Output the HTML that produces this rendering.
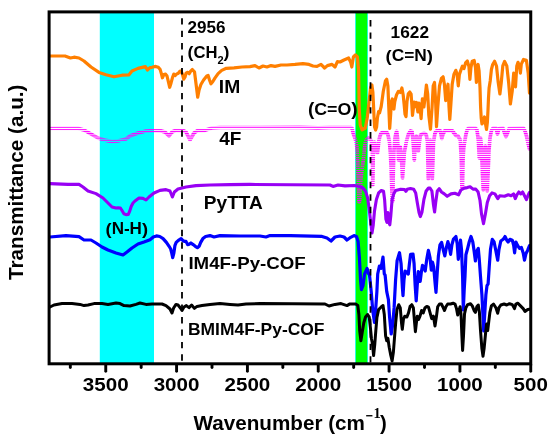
<!DOCTYPE html>
<html><head><meta charset="utf-8"><title>FTIR spectra</title>
<style>
html,body{margin:0;padding:0;background:#fff;}
svg{display:block;}
text{font-family:"Liberation Sans",sans-serif;font-weight:bold;fill:#000;}
.c{fill:none;stroke-linejoin:round;stroke-linecap:round;}
</style></head>
<body>
<svg width="550" height="441" viewBox="0 0 550 441">
<defs>
<pattern id="stripes" x="0" y="128.85" width="550" height="2.16" patternUnits="userSpaceOnUse">
<rect x="0" y="0" width="550" height="1.2" fill="#fff"/>
</pattern>
<mask id="m" maskUnits="userSpaceOnUse" x="0" y="0" width="550" height="441">
<rect x="0" y="0" width="550" height="441" fill="url(#stripes)"/>
</mask>
</defs>
<rect x="0" y="0" width="550" height="441" fill="#fff"/>
<rect x="99.8" y="11.9" width="54.2" height="351.9" fill="#00ffff"/>
<rect x="355.5" y="11.9" width="12.1" height="351.9" fill="#00ff00" stroke="#00ffff" stroke-width="0.7"/>
<polyline class="c" stroke="#ff7f00" stroke-width="3.2" points="50.0,56.0 65.0,56.0 70.4,58.0 74.0,57.2 79.0,58.0 84.0,61.0 91.0,67.0 99.0,72.4 106.0,74.8 114.0,76.8 122.0,75.2 129.0,74.8 132.0,71.0 138.0,68.4 145.4,66.6 147.4,70.0 150.0,67.6 152.0,67.3 155.6,66.4 158.3,67.3 160.2,69.6 161.5,74.1 162.4,77.8 163.8,74.6 165.6,74.1 167.0,76.0 168.3,81.4 169.7,87.3 171.0,83.2 172.4,77.8 173.8,74.1 175.1,75.5 176.5,74.1 178.3,73.2 179.7,71.4 181.0,71.0 182.4,74.1 183.7,79.1 185.1,76.9 186.0,73.2 187.8,72.3 189.2,73.7 190.5,71.4 192.3,69.5 194.5,71.8 195.9,82.7 197.7,97.2 199.1,90.0 200.9,84.5 203.6,80.0 206.8,75.9 208.1,75.4 209.5,80.0 211.0,83.8 212.7,81.8 214.9,78.1 218.1,73.6 221.7,70.4 226.3,68.3 234.0,67.8 242.0,67.0 250.0,66.6 255.0,65.6 259.0,68.0 263.0,66.0 267.0,67.0 271.0,65.6 275.0,66.4 281.0,65.0 287.0,65.0 295.0,64.4 303.0,63.6 309.0,64.4 313.0,66.0 317.0,66.4 321.0,64.4 324.6,68.0 327.4,65.6 332.0,64.4 335.0,67.0 337.4,61.6 340.0,62.0 344.0,60.0 348.6,58.0 350.6,62.0 351.8,67.0 353.4,57.0 355.4,55.0 357.4,57.0 358.6,70.0 359.2,107.8 360.2,125.0 362.1,129.8 365.3,128.0 367.2,118.0 369.1,101.5 370.6,87.5 371.9,84.9 372.9,92.5 373.9,114.0 374.6,127.0 375.6,130.0 376.6,127.0 377.4,118.0 378.6,111.6 379.5,113.0 381.2,106.5 383.3,91.3 385.4,81.0 386.7,79.2 387.9,86.0 388.8,107.8 389.7,128.5 390.7,114.0 391.4,101.5 392.3,99.0 393.0,105.0 393.9,109.0 394.8,101.5 396.5,95.0 398.4,91.3 400.3,92.5 401.9,88.0 403.2,95.0 404.1,104.0 405.0,114.2 406.0,116.7 407.0,101.5 408.3,93.8 409.8,92.0 411.1,94.0 411.8,104.0 412.5,115.3 414.1,102.0 415.3,106.5 416.5,102.5 417.9,112.0 419.0,103.0 420.1,108.0 421.1,118.6 422.4,98.9 423.9,107.0 425.1,97.3 426.4,85.0 427.7,94.0 428.8,115.3 430.5,129.2 432.1,107.0 433.2,85.8 434.5,82.5 435.5,98.9 436.5,126.7 437.8,107.0 439.5,85.8 441.4,78.5 443.1,76.8 444.4,84.2 445.7,100.6 446.8,90.7 448.0,84.2 449.0,107.0 449.8,119.4 450.9,103.8 452.2,84.2 453.9,74.4 455.8,70.3 457.1,74.4 458.3,85.8 459.4,74.4 461.1,69.5 462.4,66.2 464.0,68.6 465.6,62.9 467.3,61.0 468.9,66.2 469.9,79.3 470.9,67.8 472.2,61.3 474.2,60.5 475.5,67.8 476.4,82.5 477.1,67.8 478.1,64.5 479.1,71.1 480.0,87.5 480.6,107.0 481.2,118.0 482.0,124.0 483.2,122.0 484.5,117.0 485.5,124.0 486.5,129.5 487.4,122.0 488.0,110.0 488.5,98.0 489.1,88.0 490.2,81.0 491.4,69.5 492.7,64.5 494.6,61.3 496.5,66.0 498.2,82.3 499.9,94.0 501.3,82.2 502.8,65.9 504.6,61.4 506.8,65.9 508.6,82.2 510.4,104.0 512.2,91.3 513.7,73.1 514.9,82.2 515.5,86.8 516.8,65.9 518.0,62.3 519.5,65.9 520.4,73.1 521.3,64.1 523.5,59.5 526.4,60.4 528.2,73.1 529.5,93.1"/>
<g mask="url(#m)"><polyline class="c" stroke="#ff00ff" stroke-width="3.7" points="50.0,128.4 78.0,128.4 84.0,130.0 91.0,134.0 98.0,138.0 106.0,140.4 112.0,141.6 118.0,141.0 126.0,139.0 130.0,136.0 138.0,133.0 146.0,131.0 158.0,130.3 160.0,130.6 165.0,132.0 169.0,136.0 172.0,132.0 176.0,130.3 183.0,130.3 186.0,132.0 190.0,140.0 194.0,133.0 198.0,130.3 205.0,130.3 212.0,128.0 220.0,127.5 260.0,127.5 300.0,127.4 318.0,127.9 330.0,127.5 351.0,127.5 352.0,128.3 353.4,134.0 355.5,140.0 356.4,143.0 357.3,152.0 357.7,161.0 358.3,180.0 359.0,202.0 359.6,202.0 360.8,180.0 362.5,166.0 363.2,161.0 364.1,152.0 365.2,143.0 366.5,139.5 368.0,138.0 370.0,139.0 371.5,141.0 372.3,152.0 372.8,185.0 373.3,152.0 374.5,142.0 375.5,146.0 376.5,152.0 377.5,153.0 378.3,146.0 379.0,140.0 380.0,136.0 381.0,133.5 382.0,132.6 387.0,132.6 388.0,135.0 389.5,142.0 390.5,155.0 391.2,170.0 392.2,201.0 392.8,201.0 393.3,170.0 394.0,150.0 395.0,138.0 396.0,133.0 396.7,131.5 397.5,138.0 398.5,160.0 399.4,150.0 400.3,147.0 401.3,155.0 402.5,178.0 403.4,165.0 404.4,152.0 406.5,141.0 408.5,134.0 410.5,131.0 412.0,131.5 413.0,140.0 414.3,160.0 415.3,141.0 416.3,136.0 417.3,140.0 418.3,151.0 419.3,143.0 420.5,135.0 423.0,133.5 425.0,133.5 426.3,135.0 427.5,142.0 428.3,179.0 430.3,140.0 432.3,179.0 433.5,142.0 435.0,133.0 437.0,130.5 440.0,130.5 441.0,134.0 441.8,138.5 443.0,134.0 445.0,130.5 452.0,130.5 454.0,133.0 456.0,135.5 458.0,136.0 460.3,140.0 461.3,160.0 461.9,187.0 462.5,187.0 463.0,160.0 463.7,148.0 464.8,141.0 466.0,134.0 467.3,129.5 469.0,128.0 475.5,128.0 477.0,130.0 478.3,140.0 479.3,158.0 480.5,138.0 481.5,146.0 482.5,175.0 483.3,190.0 484.5,160.0 485.4,146.0 486.2,165.0 487.2,191.0 488.2,170.0 489.0,150.0 490.0,138.0 491.3,131.0 493.0,128.2 496.0,128.2 497.5,134.0 499.0,128.5 503.0,128.2 504.5,133.0 506.0,136.5 507.5,133.0 509.0,128.5 523.5,128.2 525.0,131.0 526.5,136.0 528.0,143.0 529.5,149.0"/></g>
<polyline class="c" stroke="#9800f4" stroke-width="3.1" points="50.0,183.6 68.0,184.4 79.0,184.4 83.0,187.0 88.0,191.0 96.0,193.6 103.0,198.0 108.0,203.0 112.0,207.0 116.0,208.0 118.0,207.8 120.4,208.0 122.0,210.5 123.9,213.8 126.0,214.6 128.3,214.4 129.8,210.9 131.2,206.5 133.0,203.0 135.0,201.0 139.0,198.0 143.0,198.4 146.0,200.0 149.0,197.0 154.0,193.0 160.0,190.4 166.0,189.6 170.0,191.0 172.4,197.0 174.4,192.0 178.0,189.0 186.0,187.0 196.0,185.6 210.0,185.0 230.0,184.6 250.0,184.4 330.0,185.0 333.0,186.4 338.0,185.0 345.0,185.9 354.8,185.5 359.7,186.4 363.0,188.0 365.5,191.3 367.6,197.8 369.2,209.3 370.9,224.0 372.0,233.0 373.2,225.6 374.5,210.9 376.4,199.5 378.6,192.9 381.3,190.5 383.5,191.3 384.6,199.5 385.9,219.1 386.9,222.4 387.9,212.6 388.9,222.4 389.8,224.8 390.8,215.8 392.1,199.5 393.8,193.7 395.7,190.5 400.6,189.3 404.7,189.6 405.9,191.3 407.2,189.3 410.5,188.5 413.7,189.3 415.7,192.9 417.3,202.7 419.0,212.5 420.3,216.6 421.9,212.5 423.9,199.5 426.0,191.3 428.5,188.0 430.0,188.1 431.9,191.0 433.4,204.4 434.6,212.0 435.7,202.5 437.3,191.0 439.2,188.7 441.5,192.0 444.3,193.9 447.2,196.3 451.0,193.9 454.8,193.3 458.6,194.8 460.9,190.0 464.4,188.1 467.2,187.6 470.1,186.8 473.0,189.1 475.8,189.1 478.1,192.0 480.0,200.5 481.5,213.9 483.5,223.8 485.4,213.9 487.3,202.5 489.6,195.8 492.0,192.9 494.9,193.9 497.8,198.6 499.7,195.8 504.5,196.3 508.3,194.8 511.1,195.8 513.6,193.9 515.3,198.6 516.9,194.8 518.8,192.0 520.7,193.9 522.6,192.0 524.5,195.8 526.4,199.6 528.3,194.8 529.3,192.5"/>
<polyline class="c" stroke="#0000ff" stroke-width="3.2" points="50.0,237.0 66.0,235.6 79.0,236.6 84.0,240.0 91.0,240.0 96.0,243.0 102.0,247.0 108.0,250.0 116.0,253.0 123.0,255.0 127.0,252.0 132.0,248.0 138.0,244.0 144.0,242.0 150.0,239.7 153.3,237.0 156.5,235.9 159.8,236.5 163.1,238.6 166.4,242.4 169.1,246.3 170.7,249.0 171.8,253.4 172.7,257.7 173.8,253.4 174.9,245.7 176.2,242.4 178.4,240.3 181.1,238.6 182.7,240.3 184.4,241.4 186.0,241.4 187.6,244.6 189.3,244.1 190.9,243.0 193.1,244.6 195.3,246.3 197.4,247.7 199.1,246.3 200.7,242.4 202.9,238.6 205.6,236.5 210.0,235.6 214.0,237.0 220.0,235.6 240.0,236.0 260.0,236.0 266.0,237.0 270.0,235.6 290.0,235.6 322.0,236.4 327.0,238.0 331.0,241.0 335.0,237.0 340.0,236.0 344.0,237.0 347.0,240.0 350.7,237.3 354.0,235.6 356.5,236.5 358.1,241.4 359.4,257.7 360.5,279.0 361.4,289.6 363.0,285.6 364.6,274.0 367.1,268.4 368.7,274.0 369.5,275.0 371.2,291.4 372.8,311.0 374.5,322.5 375.8,307.7 376.9,291.4 377.7,274.0 379.4,266.0 381.0,268.4 383.0,257.0 384.3,274.0 385.1,275.0 386.7,291.4 388.4,299.5 389.5,316.0 391.2,334.0 392.8,324.0 394.1,307.7 395.6,279.7 397.1,260.6 399.5,252.7 401.1,263.8 402.4,287.6 403.0,295.6 404.0,279.7 405.1,271.0 406.7,272.5 408.3,274.0 409.4,263.8 410.6,254.3 413.0,254.0 414.1,263.8 415.1,284.4 416.2,301.0 417.3,284.4 418.3,271.7 419.4,274.0 420.2,281.3 421.4,271.7 422.5,265.4 424.1,267.8 425.2,271.0 426.8,259.0 428.4,250.3 430.0,257.5 431.3,270.2 432.5,262.2 433.7,267.0 435.2,284.4 436.0,292.4 437.3,271.7 438.4,255.9 440.0,244.8 441.6,242.4 443.2,249.5 444.8,255.9 446.3,248.0 447.9,241.6 449.5,248.0 450.6,254.3 451.9,244.8 453.5,239.0 455.9,236.5 457.2,243.8 458.3,259.3 459.5,249.3 460.5,240.2 461.5,249.3 462.6,276.5 463.3,310.0 464.2,290.0 465.0,276.5 465.9,254.7 467.4,249.3 469.2,242.0 471.0,236.5 472.8,242.0 474.1,251.0 475.4,261.0 476.8,251.0 478.3,248.4 479.2,258.4 480.5,276.5 481.9,294.7 483.7,331.0 485.9,294.7 487.0,285.6 488.1,283.8 489.2,267.5 490.5,249.3 492.3,239.3 494.1,242.0 495.9,251.0 497.7,260.2 499.0,249.3 500.8,241.0 503.2,239.3 505.0,236.5 506.8,240.2 508.1,242.0 509.9,239.3 512.3,240.2 513.7,245.6 514.6,252.9 515.9,242.0 517.7,245.6 519.5,248.4 521.4,247.5 523.2,252.9 524.5,260.2 525.9,253.8 527.7,250.2 529.5,245.6"/>
<polyline class="c" stroke="#000" stroke-width="3" points="50.0,307.0 54.0,305.0 62.0,303.6 72.0,303.6 80.0,304.4 84.0,305.6 88.0,305.0 94.0,303.6 102.0,303.6 108.0,304.4 116.0,303.0 120.0,303.6 124.0,305.6 130.0,306.0 136.0,304.4 140.0,303.0 146.0,304.4 152.0,304.0 162.0,304.0 166.0,305.6 170.0,309.0 172.0,313.0 173.6,308.0 176.0,304.4 178.0,305.0 180.4,308.0 182.0,310.4 184.0,307.0 186.4,305.6 189.0,307.6 191.6,305.0 194.4,308.4 197.0,306.4 202.0,305.6 210.0,304.4 220.0,303.6 230.0,304.4 238.0,305.0 246.0,304.0 260.0,303.6 325.0,304.0 329.0,306.0 335.0,304.4 341.0,303.6 347.0,305.6 349.9,303.9 355.6,303.9 357.8,305.5 358.9,314.5 359.7,330.9 360.9,340.7 362.2,332.5 363.8,322.7 365.5,317.0 367.6,314.5 369.2,317.0 370.4,327.6 371.5,339.0 372.5,344.0 373.6,355.5 374.8,344.0 375.8,330.9 376.9,317.8 378.6,309.6 380.2,308.0 381.8,306.4 383.0,305.5 384.3,314.5 385.6,335.8 386.7,340.7 387.9,338.3 389.2,347.3 390.8,355.5 392.1,361.0 393.4,352.0 394.4,339.0 395.7,322.7 397.0,309.6 398.7,304.7 400.3,308.0 401.5,322.7 402.3,329.3 403.4,319.5 404.7,316.2 406.9,317.0 408.5,312.9 410.1,306.4 411.8,304.7 413.4,308.0 414.6,322.7 415.4,331.7 416.4,322.7 417.3,316.2 418.6,319.5 420.0,316.2 421.6,310.5 423.2,312.9 424.9,308.0 426.8,306.4 428.5,307.2 430.1,312.9 431.7,318.6 433.4,316.2 435.0,326.0 436.5,316.0 437.7,306.8 439.5,304.0 441.4,304.0 443.2,307.7 444.5,310.5 445.9,306.8 447.7,304.0 450.5,304.0 453.2,303.2 455.0,304.0 456.5,308.6 457.7,315.0 459.0,310.5 460.1,306.8 461.0,314.0 461.9,336.0 462.6,350.5 463.5,336.0 464.5,314.0 465.9,307.7 467.7,304.6 470.5,303.7 472.3,305.9 474.1,310.5 475.4,312.3 476.8,306.8 478.3,305.0 479.4,312.3 480.5,330.5 481.9,348.6 483.0,356.3 484.1,348.6 485.5,334.0 486.6,324.0 487.7,330.5 488.8,321.4 489.9,312.3 491.4,305.9 493.5,304.0 495.9,307.7 497.7,313.2 499.0,307.7 500.8,305.0 504.1,304.0 506.8,305.0 509.5,303.7 512.3,304.6 514.5,308.6 515.9,304.0 517.7,303.2 520.5,305.9 523.2,308.6 525.0,311.4 527.7,309.5 529.5,309.2"/>
<line x1="182" y1="18.2" x2="182" y2="363.8" stroke="#000" stroke-width="1.8" stroke-dasharray="6.4 6.05"/>
<line x1="370.5" y1="20" x2="370.5" y2="363.8" stroke="#000" stroke-width="1.8" stroke-dasharray="6.4 6.05"/>
<rect x="49.1" y="11.9" width="481.65" height="351.90" fill="none" stroke="#000" stroke-width="3"/>
<line x1="70.33" y1="364.8" x2="70.33" y2="367.5" stroke="#000" stroke-width="2.9" stroke-linecap="round"/>
<line x1="105.75" y1="364.8" x2="105.75" y2="371.2" stroke="#000" stroke-width="2.9" stroke-linecap="round"/>
<line x1="141.17" y1="364.8" x2="141.17" y2="367.5" stroke="#000" stroke-width="2.9" stroke-linecap="round"/>
<line x1="176.58" y1="364.8" x2="176.58" y2="371.2" stroke="#000" stroke-width="2.9" stroke-linecap="round"/>
<line x1="212.00" y1="364.8" x2="212.00" y2="367.5" stroke="#000" stroke-width="2.9" stroke-linecap="round"/>
<line x1="247.42" y1="364.8" x2="247.42" y2="371.2" stroke="#000" stroke-width="2.9" stroke-linecap="round"/>
<line x1="282.83" y1="364.8" x2="282.83" y2="367.5" stroke="#000" stroke-width="2.9" stroke-linecap="round"/>
<line x1="318.25" y1="364.8" x2="318.25" y2="371.2" stroke="#000" stroke-width="2.9" stroke-linecap="round"/>
<line x1="353.67" y1="364.8" x2="353.67" y2="367.5" stroke="#000" stroke-width="2.9" stroke-linecap="round"/>
<line x1="389.08" y1="364.8" x2="389.08" y2="371.2" stroke="#000" stroke-width="2.9" stroke-linecap="round"/>
<line x1="424.50" y1="364.8" x2="424.50" y2="367.5" stroke="#000" stroke-width="2.9" stroke-linecap="round"/>
<line x1="459.92" y1="364.8" x2="459.92" y2="371.2" stroke="#000" stroke-width="2.9" stroke-linecap="round"/>
<line x1="495.33" y1="364.8" x2="495.33" y2="367.5" stroke="#000" stroke-width="2.9" stroke-linecap="round"/>
<line x1="530.75" y1="364.8" x2="530.75" y2="371.2" stroke="#000" stroke-width="2.9" stroke-linecap="round"/>

<text x="105.75" y="391.1" text-anchor="middle" font-size="18.7" textLength="45.8" lengthAdjust="spacingAndGlyphs">3500</text>
<text x="176.58" y="391.1" text-anchor="middle" font-size="18.7" textLength="45.8" lengthAdjust="spacingAndGlyphs">3000</text>
<text x="247.42" y="391.1" text-anchor="middle" font-size="18.7" textLength="45.8" lengthAdjust="spacingAndGlyphs">2500</text>
<text x="318.25" y="391.1" text-anchor="middle" font-size="18.7" textLength="45.8" lengthAdjust="spacingAndGlyphs">2000</text>
<text x="389.08" y="391.1" text-anchor="middle" font-size="18.7" textLength="45.8" lengthAdjust="spacingAndGlyphs">1500</text>
<text x="459.92" y="391.1" text-anchor="middle" font-size="18.7" textLength="45.8" lengthAdjust="spacingAndGlyphs">1000</text>
<text x="530.75" y="391.1" text-anchor="middle" font-size="18.7" textLength="34.3" lengthAdjust="spacingAndGlyphs">500</text>

<text x="187.4" y="33.4" font-size="15.8" textLength="38.0" lengthAdjust="spacingAndGlyphs">2956</text>
<text x="187.5" y="57.5" font-size="15.8" textLength="42.0" lengthAdjust="spacingAndGlyphs"><tspan font-size="16.9" dy="0.5">(</tspan><tspan dy="-0.5">CH</tspan><tspan font-size="10.5" dy="6.2">2</tspan><tspan font-size="16.9" dy="-5.7">)</tspan></text>
<text x="390.6" y="37.8" font-size="16.3" textLength="38.4" lengthAdjust="spacingAndGlyphs">1622</text>
<text x="385.6" y="61.3" font-size="16" textLength="47.4" lengthAdjust="spacingAndGlyphs"><tspan font-size="17.1" dy="0.5">(</tspan><tspan dy="-0.5">C=N</tspan><tspan font-size="17.1" dy="0.5">)</tspan></text>
<text x="218.8" y="92.5" font-size="18.3" textLength="21.4" lengthAdjust="spacingAndGlyphs">IM</text>
<text x="307.9" y="114.8" font-size="16.9" textLength="49.8" lengthAdjust="spacingAndGlyphs"><tspan font-size="18.1" dy="0.5">(</tspan><tspan dy="-0.5">C=O</tspan><tspan font-size="18.1" dy="0.5">)</tspan></text>
<text x="219.2" y="144.7" font-size="18.5" textLength="22.2" lengthAdjust="spacingAndGlyphs">4F</text>
<text x="203.8" y="208.6" font-size="17.8" textLength="59.0" lengthAdjust="spacingAndGlyphs">PyTTA</text>
<text x="105.6" y="234" font-size="16" textLength="42.4" lengthAdjust="spacingAndGlyphs"><tspan font-size="17.1" dy="0.5">(</tspan><tspan dy="-0.5">N-H</tspan><tspan font-size="17.1" dy="0.5">)</tspan></text>
<text x="188.4" y="268.7" font-size="17" textLength="117.3" lengthAdjust="spacingAndGlyphs">IM4F-Py-COF</text>
<text x="188" y="334.7" font-size="16.6" textLength="136.5" lengthAdjust="spacingAndGlyphs">BMIM4F-Py-COF</text>

<text x="193.6" y="429.6" font-size="20.3" textLength="171.3" lengthAdjust="spacingAndGlyphs">Wavenumber (cm</text>
<text x="365.4" y="420" font-size="12.5">−</text>
<text x="373.6" y="418.4" font-size="14.5" style="font-family:'Liberation Serif',serif">1</text>
<text x="380.1" y="429.6" font-size="20.3">)</text>
<text transform="translate(23.2,182.3) rotate(-90)" text-anchor="middle" font-size="19.5" textLength="195.5" lengthAdjust="spacingAndGlyphs">Transmittance (a.u.)</text>
</svg>
</body></html>
